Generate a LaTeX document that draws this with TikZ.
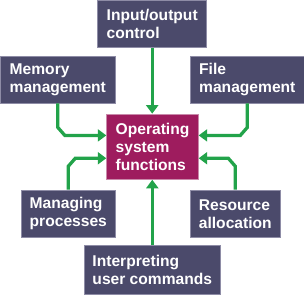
\documentclass[tikz,border=0pt]{standalone}
\usepackage{fontspec}
\setmainfont{Liberation Sans}
\usetikzlibrary{arrows.meta,calc}
\definecolor{boxdark}{HTML}{4B4A6B}
\definecolor{boxedge}{HTML}{8E8CA6}
\definecolor{centralfill}{HTML}{9E1C5E}
\definecolor{centraledge}{HTML}{C98AAA}
\definecolor{arrowgreen}{HTML}{22A34A}
\begin{document}
\begin{tikzpicture}[x=1pt,y=-1pt,
  fnbox/.style={draw=boxedge,fill=boxdark,line width=0.8pt,text=white,
    font=\fontsize{15.6}{18}\selectfont\bfseries,align=left,
    inner xsep=0pt,inner ysep=0pt,anchor=center},
  mainbox/.style={fnbox,draw=centraledge,fill=centralfill},
  arr/.style={draw=arrowgreen,line width=3.3pt,
    -{Triangle[length=8.5pt,width=12pt]}}]
\useasboundingbox (0,0) rectangle (304,295);
\node[mainbox,minimum width=91.6pt,minimum height=65.3pt] (central) at (152.5,146.7) {Operating\\system\\functions};
\node[fnbox,minimum width=109pt,minimum height=47.7pt] (io) at (152.2,23.8) {Input/output\\control};
\node[fnbox,minimum width=115.7pt,minimum height=47pt] (mem) at (57.8,79.5) {Memory\\management};
\node[fnbox,minimum width=113.3pt,minimum height=47pt] (file) at (247.3,79.5) {File\\management};
\node[fnbox,minimum width=93.3pt,minimum height=47.7pt] (manage) at (68.3,213.8) {Managing\\processes};
\node[fnbox,minimum width=89.3pt,minimum height=47.7pt] (resource) at (235.3,213.8) {Resource\\allocation};
\node[fnbox,minimum width=136.7pt,minimum height=48.3pt] (interp) at (152.3,269.8) {Interpreting\\user commands};
\draw[arr] (io.south) -- (io.south |- central.north);
\draw[arr] (interp.north) -- (interp.north |- central.south);
\draw[arr] (mem.south) -- ++(0,24) -- ++(7,8) coordinate (m1) -- (m1 -| central.west);
\draw[arr] (file.south) -- ++(0,24) -- ++(-7,8) coordinate (f1) -- (f1 -| central.east);
\draw[arr] (manage.north) -- ++(0,-23.3) -- ++(7,-8) coordinate (p1) -- (p1 -| central.west);
\draw[arr] (resource.north) -- ++(0,-23.3) -- ++(-7,-8) coordinate (r1) -- (r1 -| central.east);
\end{tikzpicture}
\end{document}
